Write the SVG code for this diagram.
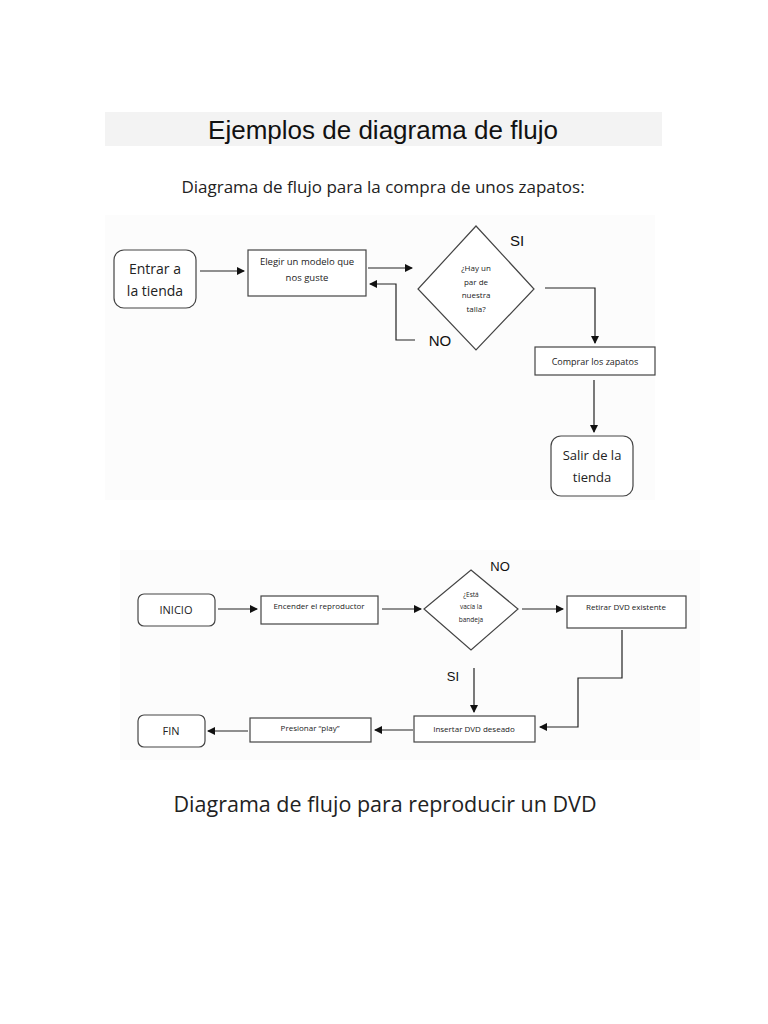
<svg xmlns="http://www.w3.org/2000/svg" width="768" height="1024" viewBox="0 0 768 1024">
<defs>
<marker id="ah" markerWidth="8" markerHeight="8" refX="7" refY="4" orient="auto" markerUnits="userSpaceOnUse"><path d="M0,0 L8,4 L0,8 Z" fill="#111"/></marker>
<style>
.b{fill:#fff;stroke:#444;stroke-width:1.2}
.c{fill:none;stroke:#222;stroke-width:1.2;marker-end:url(#ah)}
.t{font-family:"Open Sans","Noto Sans",sans-serif;fill:#222;text-anchor:middle}
.s{font-family:"Liberation Sans",Arial,sans-serif;fill:#111;text-anchor:middle}
</style>
</defs>
<rect width="768" height="1024" fill="#fff"/>
<rect x="105" y="112" width="557" height="34" fill="#f3f3f3"/>
<text class="s" x="383" y="139" font-size="26">Ejemplos de diagrama de flujo</text>
<text class="t" x="383" y="193" font-size="17">Diagrama de flujo para la compra de unos zapatos:</text>
<rect x="105" y="215" width="550" height="285" fill="#fcfcfc"/>
<rect x="120" y="550" width="580" height="210" fill="#fcfcfc"/>
<g id="connectors">
<line class="c" x1="200" y1="271" x2="244" y2="271"/>
<line class="c" x1="368" y1="268" x2="412" y2="268"/>
<polyline class="c" points="415,340 396,340 396,284 370,284"/>
<polyline class="c" points="545,288 595,288 595,343"/>
<line class="c" x1="594" y1="380" x2="594" y2="432"/>
<line class="c" x1="218" y1="609" x2="257" y2="609"/>
<line class="c" x1="382" y1="609" x2="421" y2="609"/>
<line class="c" x1="522" y1="609" x2="563" y2="609"/>
<polyline class="c" points="622,630 622,678 578,678 578,727 540,727"/>
<line class="c" x1="474" y1="668" x2="474" y2="712"/>
<line class="c" x1="413" y1="730" x2="375" y2="730"/>
<line class="c" x1="248" y1="731" x2="208" y2="731"/>
</g>
<g id="entrar"><rect class="b" x="114" y="250" width="82" height="58" rx="10"/><text class="t" x="155" y="274" font-size="14">Entrar a</text><text class="t" x="155" y="296" font-size="14">la tienda</text></g>
<g id="elegir"><rect class="b" x="248" y="250" width="118" height="46"/><text class="t" x="307" y="265" font-size="9.5">Elegir un modelo que</text><text class="t" x="307" y="281" font-size="9.5">nos guste</text></g>
<g id="hay"><polygon class="b" points="476,226 534,289 476,350 418,289"/><text class="t" x="476" y="271" font-size="8">¿Hay un</text><text class="t" x="476" y="285" font-size="8">par de</text><text class="t" x="476" y="298" font-size="8">nuestra</text><text class="t" x="476" y="312" font-size="8">talla?</text></g>
<text class="s" x="517" y="246" font-size="15">SI</text>
<text class="s" x="440" y="346" font-size="15">NO</text>
<g id="comprar"><rect class="b" x="535" y="347" width="120" height="28"/><text class="t" x="595" y="365" font-size="9">Comprar los zapatos</text></g>
<g id="salir"><rect class="b" x="551" y="436" width="82" height="60" rx="10"/><text class="t" x="592" y="460" font-size="13">Salir de la</text><text class="t" x="592" y="482" font-size="13">tienda</text></g>
<g id="inicio"><rect class="b" x="138" y="594" width="77" height="32" rx="6"/><text class="t" x="176" y="614" font-size="11">INICIO</text></g>
<g id="encender"><rect class="b" x="261" y="596" width="117" height="28"/><text class="t" x="319" y="609" font-size="8">Encender el reproductor</text></g>
<g id="vacia"><polygon class="b" points="471,570 518,609 471,650 424,609"/><text class="t" x="471" y="597" font-size="6.5">¿Está</text><text class="t" x="471" y="609" font-size="6.5">vacía la</text><text class="t" x="471" y="622" font-size="6.5">bandeja</text></g>
<text class="s" x="500" y="571" font-size="13">NO</text>
<text class="s" x="453" y="681" font-size="13">SI</text>
<g id="retirar"><rect class="b" x="567" y="596" width="119" height="32"/><text class="t" x="626" y="610" font-size="8">Retirar DVD existente</text></g>
<g id="insertar"><rect class="b" x="414" y="716" width="121" height="26"/><text class="t" x="474" y="732" font-size="8">Insertar DVD deseado</text></g>
<g id="presionar"><rect class="b" x="250" y="718" width="121" height="24"/><text class="t" x="310" y="731" font-size="8">Presionar “play”</text></g>
<g id="fin"><rect class="b" x="138" y="715" width="67" height="32" rx="6"/><text class="t" x="171" y="735" font-size="11">FIN</text></g>
<text class="t" x="385" y="812" font-size="21.5">Diagrama de flujo para reproducir un DVD</text>
</svg>
